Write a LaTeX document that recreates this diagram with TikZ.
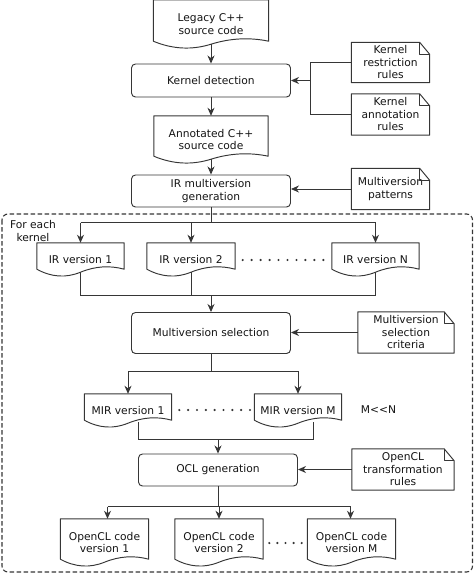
\documentclass[tikz,border=0pt]{standalone}
\usepackage{fontspec}
\setmainfont{DejaVu Sans}
\usetikzlibrary{arrows.meta,calc}
\definecolor{ln}{HTML}{363636}
\definecolor{tx}{HTML}{141414}
\tikzset{
  every node/.style={font=\fontsize{10.7}{12.5}\selectfont, text=tx, inner sep=0pt},
  proc/.style={draw=ln, line width=0.95pt, rounded corners=4pt, align=center},
  doc/.style={align=center},
  note/.style={align=center},
  conn/.style={draw=ln, line width=0.95pt},
  arr/.style={conn, -{Stealth[length=8pt,width=7pt,inset=2.5pt]}},
  shp/.style={draw=ln, line width=0.95pt, line join=round},
  dot/.style={fill=ln},
}
\newcommand\docshape[1]{%
  \draw[shp] (#1.north west) -- (#1.north east) -- ($(#1.south east)+(0,-7)$)
   .. controls ($(#1.south east)!1/6!(#1.south west)+(0,-11)$) and ($(#1.south east)!1/3!(#1.south west)+(0,-10)$) .. ($(#1.south)+(0,-4)$)
   .. controls ($(#1.south west)!1/3!(#1.south east)+(0,2)$) and ($(#1.south west)!1/6!(#1.south east)+(0,1)$) .. ($(#1.south west)+(0,-7)$) -- cycle;}
\newcommand\noteshape[1]{%
  \draw[shp] (#1.north west) -- ($(#1.north east)+(-10,0)$) -- ($(#1.north east)+(0,12)$) -- (#1.south east) -- (#1.south west) -- cycle;
  \draw[shp] ($(#1.north east)+(-10,0)$) -- ($(#1.north east)+(-10,12)$) -- ($(#1.north east)+(0,12)$);}
\begin{document}
\begin{tikzpicture}[x=1pt,y=-1pt]
\useasboundingbox (0,0) rectangle (474,574);
% dashed frame
\draw[draw=ln, line width=1.1pt, dash pattern=on 4.5pt off 2.5pt, rounded corners=6pt] (2,214) rectangle (472.5,572);
\node[align=center] (fek) at (33,231) {For each\\kernel};

% main column
\node[doc, minimum width=115pt, minimum height=48pt] (legacy) at (211,24) {Legacy C++\\source code};
\node[proc, minimum width=159pt, minimum height=33pt] (kd) at (211,80.5) {Kernel detection};
\node[doc, minimum width=114pt, minimum height=47pt] (annot) at (211,139.5) {Annotated C++\\source code};
\node[proc, minimum width=159pt, minimum height=32pt] (irg) at (211,191) {IR multiversion\\generation};

% notes
\node[note, minimum width=78pt, minimum height=40pt] (krr) at (390.5,62.5) {Kernel\\restriction\\rules};
\node[note, minimum width=78pt, minimum height=41pt] (kar) at (390.5,114.5) {Kernel\\annotation\\rules};
\node[note, minimum width=78pt, minimum height=41pt] (mvp) at (390.5,189) {Multiversion\\patterns};
\node[note, minimum width=96pt, minimum height=41pt] (msc) at (406,332.5) {Multiversion\\selection\\criteria};
\node[note, minimum width=102pt, minimum height=41pt] (otr) at (403,469.5) {OpenCL\\transformation\\rules};

% IR versions
\node[doc, minimum width=87pt, minimum height=33pt] (ir1) at (80.5,259.5) {IR version 1};
\node[doc, minimum width=88pt, minimum height=33pt] (ir2) at (191,259.5) {IR version 2};
\node[doc, minimum width=87pt, minimum height=33pt] (irN) at (375.5,259.5) {IR version N};

\node[proc, minimum width=159pt, minimum height=41pt] (ms) at (211,333) {Multiversion selection};

% MIR versions
\node[doc, minimum width=87pt, minimum height=33pt] (mir1) at (128,410.5) {MIR version 1};
\node[doc, minimum width=87pt, minimum height=33pt] (mirM) at (298,410.5) {MIR version M};
\node (mn) at (378.5,410) {M<{}<N};

\node[proc, minimum width=159pt, minimum height=32pt] (ocl) at (218,470) {OCL generation};

% OpenCL code versions
\node[doc, minimum width=88pt, minimum height=47pt] (oc1) at (104.5,542.5) {OpenCL code\\version 1};
\node[doc, minimum width=88pt, minimum height=47pt] (oc2) at (219,542.5) {OpenCL code\\version 2};
\node[doc, minimum width=88pt, minimum height=47pt] (ocM) at (351.5,542.5) {OpenCL code\\version M};

% shapes
\docshape{legacy}\docshape{annot}
\docshape{ir1}\docshape{ir2}\docshape{irN}
\docshape{mir1}\docshape{mirM}
\docshape{oc1}\docshape{oc2}\docshape{ocM}
\noteshape{krr}\noteshape{kar}\noteshape{mvp}\noteshape{msc}\noteshape{otr}

% connectors top
\draw[arr] ($(legacy.south)+(0,-4)$) -- (kd.north);
\draw[arr] (kd.south) -- (annot.north);
\draw[arr] ($(annot.south)+(0,-4)$) -- (irg.north);
\coordinate (br) at (310.5,80.5);
\draw[conn] (krr.west) -| (br) |- (kar.west);
\draw[arr] (br) -- (kd.east);
\draw[arr] (mvp.west) -- (irg.east |- mvp.west);

% fork 1
\coordinate (f1) at (211,222.7);
\draw[conn] (irg.south) -- (f1);
\draw[conn] (ir1.north |- f1) -- (irN.north |- f1);
\draw[arr] (ir1.north |- f1) -- (ir1.north);
\draw[arr] (ir2.north |- f1) -- (ir2.north);
\draw[arr] (irN.north |- f1) -- (irN.north);
\foreach \i in {0,...,9} \fill[dot] (242.7+\i*8.96,260) circle (1.2pt);

% join 1
\coordinate (j1) at (211,295);
\draw[conn] ($(ir1.south)+(0,-4)$) -- (ir1.south |- j1) -- (irN.south |- j1) -- ($(irN.south)+(0,-4)$);
\draw[conn] ($(ir2.south)+(0,-4)$) -- (ir2.south |- j1);
\draw[arr] (j1) -- (ms.north);
\draw[arr] (msc.west) -- (ms.east |- msc.west);

% fork 2
\coordinate (f2) at (211,371);
\draw[conn] (ms.south) -- (f2);
\draw[conn] (mir1.north |- f2) -- (mirM.north |- f2);
\draw[arr] (mir1.north |- f2) -- (mir1.north);
\draw[arr] (mirM.north |- f2) -- (mirM.north);
\foreach \i in {0,...,8} \fill[dot] (179.3+\i*8.84,410) circle (1.2pt);

% join 2
\coordinate (j2) at (218,439.3);
\coordinate (m1b) at ($(mir1.south)+(10,-5)$);
\coordinate (mMb) at ($(mirM.south)+(15,-5)$);
\draw[conn] (m1b) -- (m1b |- j2) -- (mMb |- j2) -- (mMb);
\draw[arr] (j2) -- (ocl.north);
\draw[arr] (otr.west) -- (ocl.east |- otr.west);

% fork 3
\coordinate (f3) at (218,506.7);
\coordinate (a1) at ($(oc1.north)+(3,0)$);
\coordinate (a3) at ($(ocM.north)+(-1,0)$);
\draw[conn] (ocl.south) -- (f3);
\draw[conn] (a1 |- f3) -- (a3 |- f3);
\draw[arr] (a1 |- f3) -- (a1);
\draw[arr] (oc2.north |- f3) -- (oc2.north);
\draw[arr] (a3 |- f3) -- (a3);
\foreach \i in {0,...,4} \fill[dot] (269.3+\i*8.1,543) circle (1.2pt);
\end{tikzpicture}
\end{document}
